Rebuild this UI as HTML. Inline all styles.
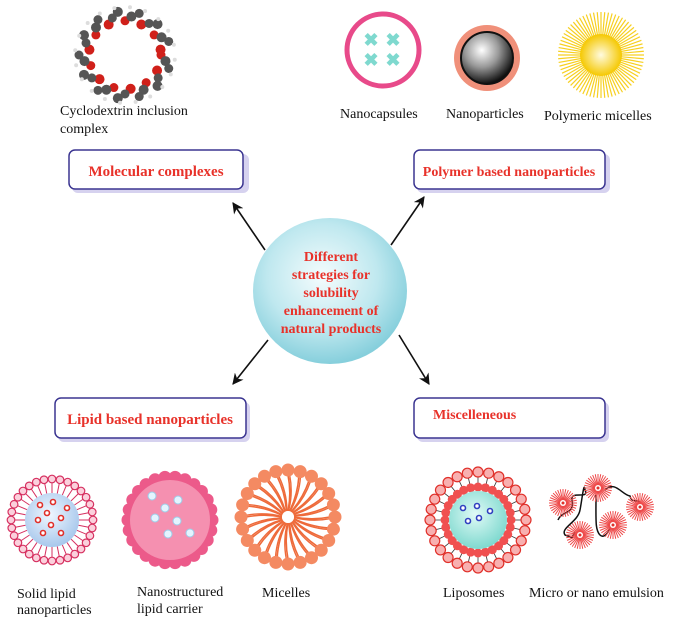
<!DOCTYPE html>
<html><head><meta charset="utf-8"><style>
body{margin:0;background:#fff;width:685px;height:618px;overflow:hidden;font-family:"Liberation Serif",serif}
svg{position:absolute;left:0;top:0}
</style></head><body>
<svg id="s" width="685" height="618" viewBox="0 0 685 618" xmlns="http://www.w3.org/2000/svg">
<defs>
<radialGradient id="cg" cx="45%" cy="40%" r="60%"><stop offset="0" stop-color="#f4fcfd"/><stop offset="0.6" stop-color="#bfe8ef"/><stop offset="1" stop-color="#86cfdc"/></radialGradient>
<radialGradient id="np" cx="40%" cy="35%" r="65%"><stop offset="0" stop-color="#fff"/><stop offset="0.5" stop-color="#999"/><stop offset="1" stop-color="#111"/></radialGradient>
<radialGradient id="sun" cx="50%" cy="50%" r="50%"><stop offset="0" stop-color="#fffbe0"/><stop offset="1" stop-color="#f5c800"/></radialGradient>
<radialGradient id="sl" cx="45%" cy="40%" r="60%"><stop offset="0" stop-color="#f0f7ff"/><stop offset="1" stop-color="#a8c8ec"/></radialGradient>
<radialGradient id="lp" cx="45%" cy="40%" r="60%"><stop offset="0" stop-color="#e0faf6"/><stop offset="1" stop-color="#7fd9cf"/></radialGradient>
<marker id="ar" viewBox="0 0 10 10" refX="9" refY="5" markerWidth="7" markerHeight="7" orient="auto"><path d="M0,0L10,5L0,10L3,5z" fill="#111"/></marker>
</defs>
<g id="g"></g>
<g fill="#fff" stroke="#3b3591" stroke-width="1.5">
<rect x="72" y="154" width="177" height="39" rx="6" fill="#d6d2ef" stroke="none"/>
<rect x="69" y="150" width="174" height="39" rx="6"/>
<rect x="417" y="154" width="193" height="39" rx="6" fill="#d6d2ef" stroke="none"/>
<rect x="414" y="150" width="191" height="39" rx="6"/>
<rect x="58" y="402" width="192" height="40" rx="6" fill="#d6d2ef" stroke="none"/>
<rect x="55" y="398" width="191" height="40" rx="6"/>
<rect x="417" y="402" width="192" height="40" rx="6" fill="#d6d2ef" stroke="none"/>
<rect x="414" y="398" width="191" height="40" rx="6"/>
</g>
<g font-family="Liberation Serif" font-weight="bold" fill="#e8322a" font-size="15">
<text x="156" y="176" text-anchor="middle">Molecular complexes</text>
<text x="509" y="176" text-anchor="middle" font-size="14">Polymer based nanoparticles</text>
<text x="150" y="424" text-anchor="middle">Lipid based nanoparticles</text>
<text x="433" y="419" font-size="14">Miscelleneous</text>
</g>
<ellipse cx="330" cy="291" rx="77" ry="73" fill="url(#cg)"/>
<g font-family="Liberation Serif" font-weight="bold" fill="#e8322a" font-size="14" text-anchor="middle">
<text x="331" y="261">Different</text>
<text x="331" y="279">strategies for</text>
<text x="331" y="297">solubility</text>
<text x="331" y="315">enhancement of</text>
<text x="331" y="333">natural products</text>
</g>
<g stroke="#111" stroke-width="1.6" marker-end="url(#ar)">
<line x1="265" y1="250" x2="233" y2="203"/>
<line x1="391" y1="245" x2="424" y2="197"/>
<line x1="268" y1="340" x2="233" y2="384"/>
<line x1="399" y1="335" x2="429" y2="384"/>
</g>
<g font-family="Liberation Serif" font-size="14" fill="#111">
<text x="60" y="115">Cyclodextrin inclusion</text>
<text x="60" y="133">complex</text>
<text x="340" y="118">Nanocapsules</text>
<text x="446" y="118">Nanoparticles</text>
<text x="544" y="120">Polymeric micelles</text>
<text x="17" y="598">Solid lipid</text>
<text x="17" y="614">nanoparticles</text>
<text x="137" y="596">Nanostructured</text>
<text x="137" y="613">lipid carrier</text>
<text x="262" y="597">Micelles</text>
<text x="443" y="597">Liposomes</text>
<text x="529" y="597">Micro or nano emulsion</text>
</g>
</svg>
<script>
var g=document.getElementById('g'),h='';
function c(x,y,r,f,s,w){h+='<circle cx="'+x+'" cy="'+y+'" r="'+r+'" fill="'+f+'"'+(s?' stroke="'+s+'" stroke-width="'+(w||1)+'"':'')+'/>';}
function l(x1,y1,x2,y2,s,w){h+='<line x1="'+x1+'" y1="'+y1+'" x2="'+x2+'" y2="'+y2+'" stroke="'+s+'" stroke-width="'+w+'"/>';}
var i,a;
for(i=0;i<40;i++){a=i/40*6.283;var rr=36+(i%3)*5;c(125+rr*Math.cos(a),55+rr*Math.sin(a)*0.95,i%2?5:4.5,i%3==0?'#d0201a':'#555');}
for(i=0;i<20;i++){a=i/20*6.283+0.1;c(125+50*Math.cos(a),55+48*Math.sin(a),2,'#ddd');}
c(383,50,36,'#fff','#e84a8a',5);
[[371,40],[393,40],[371,60],[393,60]].forEach(function(p){h+='<text x="'+p[0]+'" y="'+(p[1]+6)+'" font-size="18" font-weight="bold" fill="#7fd9cf" text-anchor="middle" font-family="Liberation Sans">✖</text>';});
c(487,58,33,'#f0907a');c(487,58,26,'url(#np)','#111',2);
for(i=0;i<72;i++){a=i/72*6.283;l(601+18*Math.cos(a),55+18*Math.sin(a),601+43*Math.cos(a),55+43*Math.sin(a),'#f7d020',1.2);}
c(601,55,21,'url(#sun)');
// SLN
var X=52,Y=520;
for(i=0;i<32;i++){a=i/32*6.283;l(X+27*Math.cos(a),Y+27*Math.sin(a),X+38*Math.cos(a),Y+38*Math.sin(a),'#d63060',1);c(X+41*Math.cos(a),Y+41*Math.sin(a),3.8,'#fbd0dc','#d63060',1.2);}
c(X,Y,27,'url(#sl)');
[[40,505],[53,502],[67,508],[47,513],[61,518],[38,520],[51,525],[43,533],[61,533]].forEach(function(p){c(p[0],p[1],2.5,'#fff','#e0302a',1.6);});
// NLC
X=170;Y=520;
for(i=0;i<26;i++){a=i/26*6.283;c(X+42*Math.cos(a),Y+43*Math.sin(a),6.5,'#ec5a8a');}
c(X,Y,40,'#f590b0');
[[152,496],[178,500],[165,508],[155,518],[177,521],[168,534],[190,533]].forEach(function(p){c(p[0],p[1],4,'#e4f4ff','#9ccce8',1);});
// micelles
X=288;Y=517;
for(i=0;i<24;i++){a=i/24*6.283;
h+='<path d="M'+(X+6*Math.cos(a))+','+(Y+6*Math.sin(a))+' Q'+(X+24*Math.cos(a+0.15))+','+(Y+24*Math.sin(a+0.15))+' '+(X+42*Math.cos(a))+','+(Y+42*Math.sin(a))+'" stroke="#ee6a3a" stroke-width="1.6" fill="none"/>';
h+='<path d="M'+(X+6*Math.cos(a+0.08))+','+(Y+6*Math.sin(a+0.08))+' Q'+(X+24*Math.cos(a+0.22))+','+(Y+24*Math.sin(a+0.22))+' '+(X+42*Math.cos(a+0.04))+','+(Y+42*Math.sin(a+0.04))+'" stroke="#ee6a3a" stroke-width="1.4" fill="none"/>';
c(X+47*Math.cos(a),Y+47*Math.sin(a),6.5,'#f48a62');}
c(X,Y,6,'#fff');
// liposome
X=478;Y=520;
for(i=0;i<28;i++){a=i/28*6.283;l(X+35*Math.cos(a),Y+35*Math.sin(a),X+44*Math.cos(a),Y+44*Math.sin(a),'#333',0.8);c(X+48*Math.cos(a),Y+48*Math.sin(a),5,'#f8b0b0','#e0302a',1.2);c(X+33*Math.cos(a),Y+33*Math.sin(a),4.5,'#f05050');}
c(X,Y,29,'url(#lp)');
[[463,508],[477,506],[490,511],[468,521],[479,518]].forEach(function(p){c(p[0],p[1],2.5,'#fff','#3040c0',1.6);});
// emulsion
h+='<path d="M558,520 C562,510 575,515 572,500 C570,490 590,500 585,490 C584,480 582,500 580,510 C578,522 560,528 565,535 C575,538 570,540 575,532 M596,495 C596,520 595,530 600,535 C605,540 612,528 612,520 M605,490 C615,480 622,495 630,496 C632,505 640,497 640,505" stroke="#111" stroke-width="1.5" fill="none"/>';
[[563,503],[598,488],[640,507],[613,525],[580,535]].forEach(function(p){for(i=0;i<32;i++){a=i/32*6.283;l(p[0],p[1],p[0]+14*Math.cos(a),p[1]+14*Math.sin(a),'#ee4a4a',1);}c(p[0],p[1],3,'#fff');c(p[0],p[1],1.5,'#e0302a');});
g.innerHTML=h;
</script>
</body></html>
